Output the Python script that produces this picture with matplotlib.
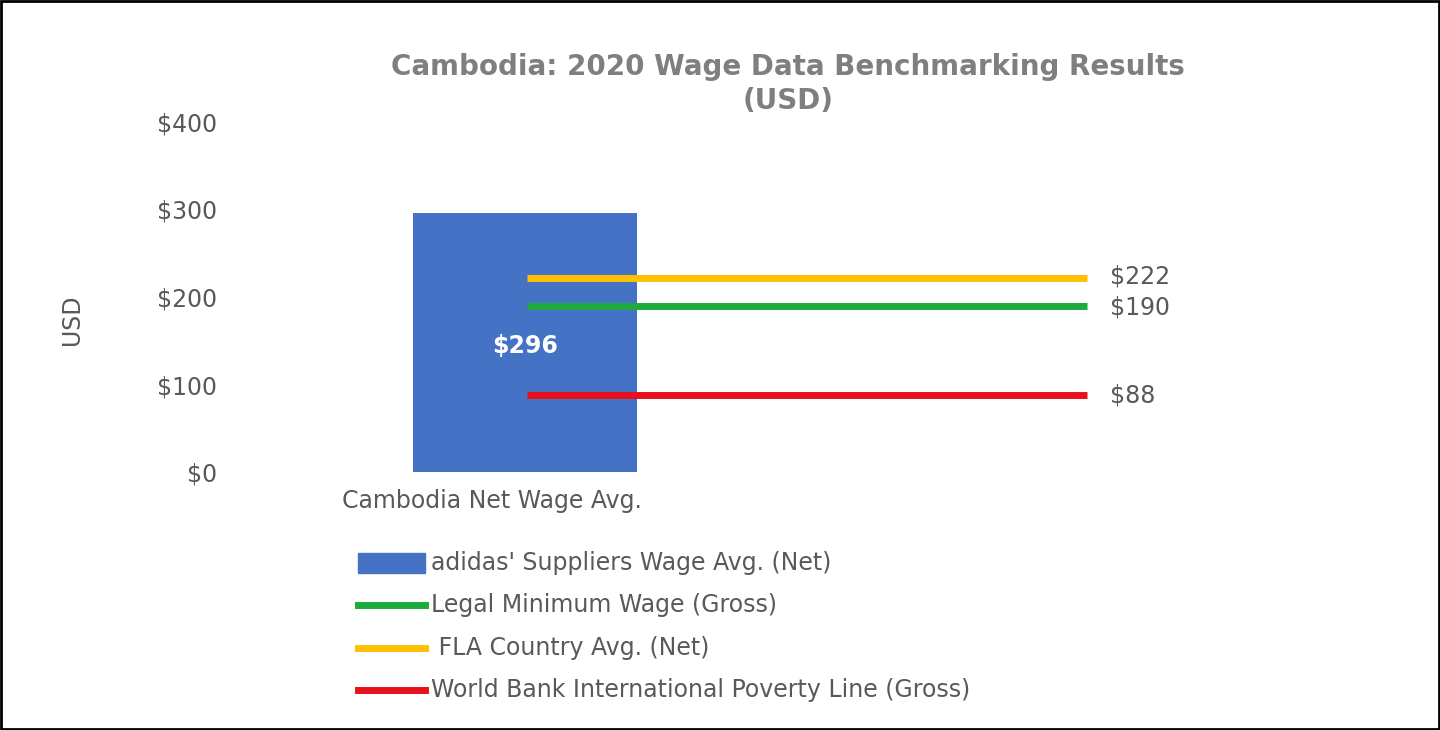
import matplotlib
matplotlib.use('Agg')
import matplotlib.pyplot as plt
from matplotlib.lines import Line2D
from matplotlib.patches import Rectangle

plt.rcParams['font.family'] = ['DejaVu Sans']

category = "Cambodia Net Wage Avg."
bar_value = 296
line_names = ["Legal Minimum Wage (Gross)", " FLA Country Avg. (Net)",
              "World Bank International Poverty Line (Gross)"]
line_values = [190, 222, 88]
line_colors = ["#1DAA3F", "#FFC000", "#E8101A"]
bar_name = "adidas' Suppliers Wage Avg. (Net)"
bar_color = "#4472C4"
yticks = [0, 100, 200, 300, 400]
gray = "#595959"

fig = plt.figure(figsize=(14.4, 7.3), dpi=100)
fig.add_artist(Rectangle((0.001, 0.002), 0.998, 0.996, transform=fig.transFigure,
                         fill=False, edgecolor='black', linewidth=2))

W, H = 1440, 730
ax = fig.add_axes([300 / W, (H - 472) / H, 800 / W, 350 / H])
ax.set_xlim(0, 1)
ax.set_ylim(0, 400)

ax.bar([0.28125], [bar_value], width=0.28, color=bar_color)
ax.text(0.28125, 144, f"${bar_value}", color='white', fontsize=17,
        fontweight='bold', ha='center', va='center')
for name, v, c in zip(line_names, line_values, line_colors):
    ax.plot([0.28375, 0.98375], [v, v], color=c, linewidth=5, solid_capstyle='butt')
ax.text(1.0125, 222 + 2, "$222", fontsize=17, color=gray, va='center')
ax.text(1.0125, 190 - 2, "$190", fontsize=17, color=gray, va='center')
ax.text(1.0125, 88 - 1, "$88", fontsize=17, color=gray, va='center')

ax.set_yticks(yticks)
ax.set_yticklabels([f"${t}" for t in yticks], fontsize=17, color=gray)
ax.tick_params(axis='y', length=0, pad=60)
ax.set_xticks([0.24])
ax.set_xticklabels([category], fontsize=17, color=gray)
ax.tick_params(axis='x', length=0, pad=12)
for s in ax.spines.values():
    s.set_visible(False)

fig.text(72 / W, (H - 320) / H, "USD", rotation=90, fontsize=17, color=gray,
         ha='center', va='center')
fig.text(788 / W, (H - 84) / H, "Cambodia: 2020 Wage Data Benchmarking Results\n(USD)",
         fontsize=20, fontweight='bold', color='#7F7F7F', ha='center', va='center',
         linespacing=1.3)

# legend
entries = [(bar_name, bar_color, 'bar')] + \
    [(n, c, 'line') for n, c in zip(line_names, line_colors)]
ys = [563, 605, 648, 690]
for (name, c, kind), y in zip(entries, ys):
    yf = (H - y) / H
    if kind == 'bar':
        fig.add_artist(Rectangle((358 / W, (H - y - 10) / H), 67 / W, 20 / H,
                                 transform=fig.transFigure, color=c))
    else:
        fig.add_artist(Line2D([358 / W, 425 / W], [yf, yf], transform=fig.transFigure,
                              color=c, linewidth=5))
    fig.text(431 / W, yf, name, fontsize=17, color=gray, va='center')

fig.savefig('out.png', dpi=100)
